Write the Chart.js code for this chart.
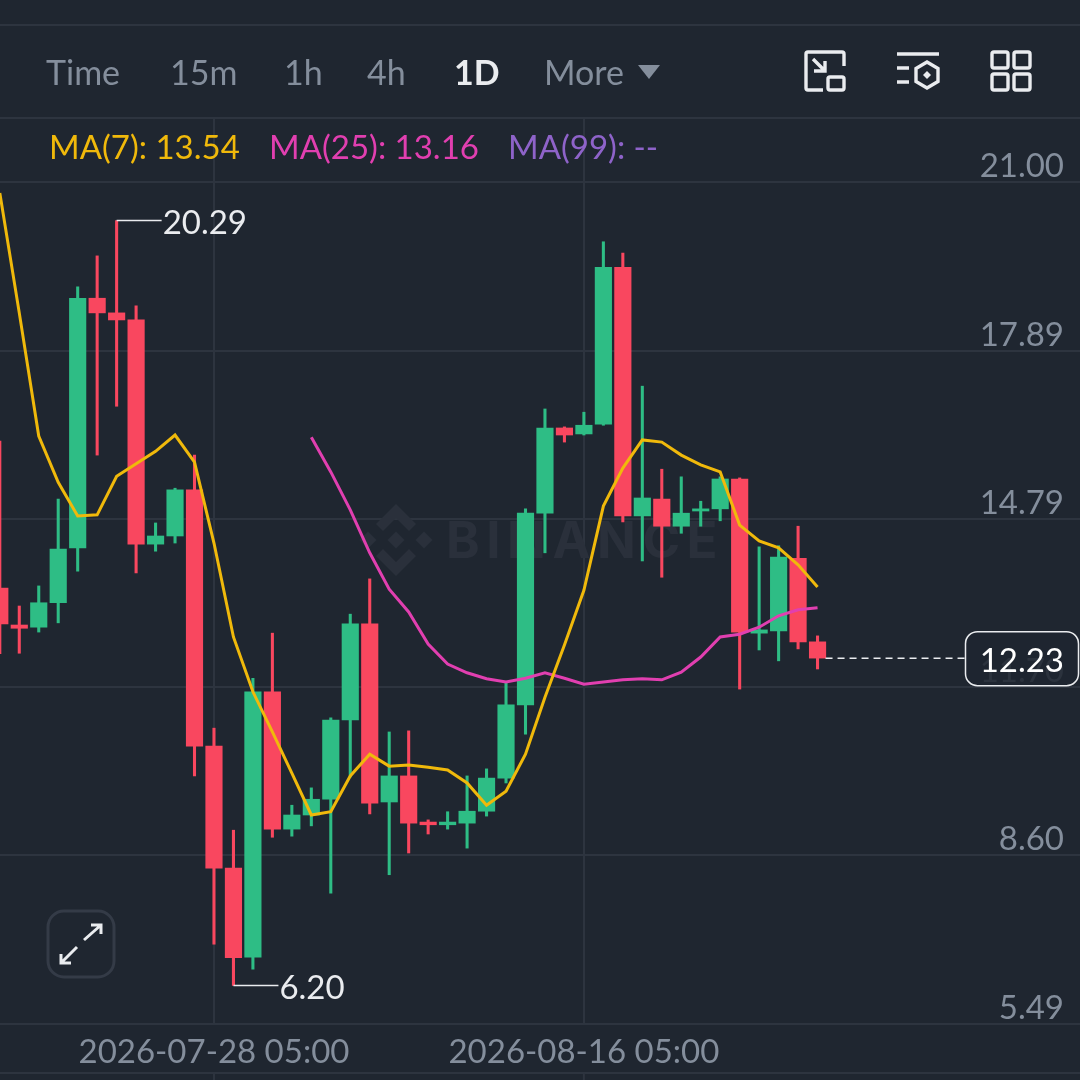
<!DOCTYPE html>
<html>
<head>
<meta charset="utf-8">
<script src="https://cdn.jsdelivr.net/npm/chart.js@4/dist/chart.umd.min.js"></script>
<style>
    html, body { margin: 0; padding: 0; background: #1f2630; }
    #page { position: relative; width: 1080px; height: 1080px; overflow: hidden; font-family: Lato, sans-serif; }
    canvas { position: absolute; left: 0; top: 0; }
    .tab, .ma { position: absolute; white-space: nowrap; transform: translateY(-50%); }
    .tab { top: 71px; font-size: 34px; color: #848e9c; }
    .tab.active { color: #eaecef; font-weight: 700; }
    .ma { top: 146px; font-size: 33px; }
    svg { position: absolute; left: 0; top: 0; }
</style>
</head>
<body>
<div id="page">
    <canvas id="chart" width="1080" height="1080"></canvas>
    <span class="tab" style="left:46px">Time</span>
    <span class="tab" style="left:170px">15m</span>
    <span class="tab" style="left:284px">1h</span>
    <span class="tab" style="left:367px">4h</span>
    <span class="tab active" style="left:454px">1D</span>
    <span class="tab" style="left:544px">More</span>
    <span class="ma" id="ma7Label" style="left:49px;color:#f0b90b"></span>
    <span class="ma" id="ma25Label" style="left:269px;color:#e13fb0"></span>
    <span class="ma" id="ma99Label" style="left:508px;color:#8e63c9"></span>
    <svg width="1080" height="1080" fill="none" stroke="#eaecef" stroke-width="3.4">
        <path d="M638 65h22l-11 14z" fill="#848e9c" stroke="none"/>
        <path d="M823 90h-15a2 2 0 0 1-2-2v-34a2 2 0 0 1 2-2h34a2 2 0 0 1 2 2v12"/>
        <rect x="828" y="77" width="16" height="13" rx="2"/>
        <path d="M813 59l12 12M814 71h11V61"/>
        <path d="M897 54h42M897 68h12M897 82h12M927 62l11 6.500v13L927 88l-11-6.500v-13z"/>
        <path d="M927 71l4 4-4 4-4-4z" fill="#eaecef" stroke="none"/>
        <rect x="992" y="52" width="16" height="16" rx="2"/>
        <rect x="1014" y="52" width="16" height="16" rx="2"/>
        <rect x="992" y="74" width="16" height="16" rx="2"/>
        <rect x="1014" y="74" width="16" height="16" rx="2"/>
        <rect x="48" y="911" width="66" height="66" rx="16" stroke="#343b47" stroke-width="3"/>
        <path d="M84 940l17-15M91 925h10v9M77 947l-16 16M61 954v9h10" stroke-width="3"/>
    </svg>
</div>
<script>
const dates = [
    '2026-07-17', '2026-07-18', '2026-07-19', '2026-07-20', '2026-07-21', '2026-07-22', '2026-07-23', '2026-07-24',
    '2026-07-25', '2026-07-26', '2026-07-27', '2026-07-28', '2026-07-29', '2026-07-30', '2026-07-31', '2026-08-01',
    '2026-08-02', '2026-08-03', '2026-08-04', '2026-08-05', '2026-08-06', '2026-08-07', '2026-08-08', '2026-08-09',
    '2026-08-10', '2026-08-11', '2026-08-12', '2026-08-13', '2026-08-14', '2026-08-15', '2026-08-16', '2026-08-17',
    '2026-08-18', '2026-08-19', '2026-08-20', '2026-08-21', '2026-08-22', '2026-08-23', '2026-08-24', '2026-08-25',
    '2026-08-26', '2026-08-27', '2026-08-28'
];
const opens = [
    13.52, 12.84, 12.80, 13.25, 14.26, 18.86, 18.59, 18.46, 14.33, 14.48, 15.33, 10.61, 8.36, 6.72, 11.61, 9.08,
    9.34, 9.63, 11.09, 12.86, 9.58, 10.06, 9.21, 9.16, 9.19, 9.41, 10.02, 11.37, 14.90, 16.47, 16.36, 16.54,
    19.43, 14.85, 15.16, 14.66, 14.94, 14.98, 15.53, 12.69, 12.73, 14.07, 12.53
];
const closes = [
    12.86, 12.78, 13.25, 14.24, 18.86, 18.59, 18.46, 14.33, 14.48, 15.33, 10.61, 8.36, 6.71, 11.61, 9.08, 9.34,
    9.63, 11.09, 12.86, 9.56, 10.06, 9.19, 9.16, 9.21, 9.41, 10.02, 11.37, 14.90, 16.47, 16.34, 16.52, 19.43,
    14.85, 15.18, 14.66, 14.90, 14.98, 15.53, 12.71, 12.75, 14.09, 12.53, 12.23
];
const highs = [
    16.23, 13.19, 13.56, 15.16, 19.07, 19.64, 20.29, 18.72, 14.72, 15.36, 15.97, 10.94, 9.06, 11.86, 12.69, 9.52,
    9.84, 11.13, 13.04, 13.69, 10.87, 10.89, 9.25, 9.40, 10.06, 10.19, 11.79, 14.98, 16.82, 16.49, 16.76, 19.90,
    19.69, 17.24, 15.71, 15.57, 15.12, 15.57, 15.55, 14.28, 14.30, 14.66, 12.64
];
const lows = [
    12.31, 12.32, 12.71, 12.88, 13.83, 15.97, 16.87, 13.80, 14.20, 14.35, 10.06, 6.96, 6.20, 6.50, 8.93, 8.95,
    9.14, 7.90, 10.04, 9.36, 8.24, 8.64, 8.99, 9.08, 8.73, 9.32, 9.93, 10.83, 14.17, 16.21, 16.34, 16.52,
    14.74, 14.02, 13.72, 14.53, 14.66, 14.76, 11.66, 12.38, 12.18, 12.40, 12.03
];
const ma7 = [
    20.80, 18.59, 16.32, 15.47, 14.85, 14.87, 15.58, 15.81, 16.04, 16.34, 15.84, 14.35, 12.62, 11.61, 10.87, 10.11,
    9.34, 9.40, 10.06, 10.46, 10.24, 10.26, 10.22, 10.17, 9.93, 9.52, 9.78, 10.46, 11.51, 12.47, 13.48, 15.03,
    15.73, 16.25, 16.21, 15.97, 15.79, 15.66, 14.68, 14.39, 14.26, 13.95, 13.54
];
const ma25 = [
    null, null, null, null, null, null, null, null, null, null, null, null, null, null, null, null,
    16.30, 15.66, 14.96, 14.17, 13.50, 13.08, 12.49, 12.12, 11.96, 11.85, 11.79, 11.86, 11.96, 11.86, 11.75, 11.79,
    11.83, 11.85, 11.83, 11.97, 12.25, 12.62, 12.67, 12.80, 13.01, 13.12, 13.16
];
const priceTicks = [21.00, 17.89, 14.79, 11.70, 8.60, 5.49];
const timeTicks = ['2026-07-28', '2026-08-16'];

const GRID = '#2d343f';
const GREEN = '#2ebd85';
const RED = '#f9475f';
const TEXT = '#848e9c';
const WHITE = '#eaecef';

function candleColor(i) {
    return closes[i] >= opens[i] ? GREEN : RED;
}

document.getElementById('ma7Label').textContent = `MA(7): ${ma7[ma7.length - 1].toFixed(2)}`;
document.getElementById('ma25Label').textContent = `MA(25): ${ma25[ma25.length - 1].toFixed(2)}`;
document.getElementById('ma99Label').textContent = 'MA(99): --';

function fillShape(c, cx, cy, points, flip) {
    c.beginPath();
    points.forEach((p, i) => {
        const px = cx + p[0];
        const py = cy + p[1] * flip;
        if (i === 0) {
            c.moveTo(px, py);
        } else {
            c.lineTo(px, py);
        }
    });
    c.closePath();
    c.fill();
}

// watermark goes under the candles, the rest of the furniture goes on top
const furniture = {
    id: 'furniture',
    beforeDatasetsDraw(chart) {
        const c = chart.ctx;
        c.save();
        c.fillStyle = '#2a303b';
        const cx = 396, cy = 540;
        const chevron = [[0, -36], [20, -16], [13, -9], [0, -22], [-13, -9], [-20, -16]];
        fillShape(c, cx, cy, chevron, 1);
        fillShape(c, cx, cy, chevron, -1);
        [-28, 0, 28].forEach(dx => {
            fillShape(c, cx + dx, cy, [[0, -8.500], [8.500, 0], [0, 8.500], [-8.500, 0]], 1);
        });
        c.font = '700 51px Inter';
        c.textAlign = 'left';
        c.textBaseline = 'middle';
        c.letterSpacing = '6.500px';
        c.fillText('BINANCE', 446, 543);
        c.restore();
    },
    afterDraw(chart) {
        const c = chart.ctx;
        const x = chart.scales.x;
        const y = chart.scales.y;
        c.save();

        // header and footer rules
        c.strokeStyle = GRID;
        c.lineWidth = 2;
        [25, 118, 1073].forEach(py => {
            c.beginPath();
            c.moveTo(0, py);
            c.lineTo(1080, py);
            c.stroke();
        });
        timeTicks.forEach(t => {
            const px = x.getPixelForValue(dates.indexOf(t));
            c.beginPath();
            c.moveTo(px, 1073);
            c.lineTo(px, 1080);
            c.stroke();
        });

        // highest and lowest price markers
        c.font = '33px Lato';
        c.textBaseline = 'middle';
        c.textAlign = 'left';
        c.strokeStyle = WHITE;
        c.fillStyle = WHITE;
        c.lineWidth = 1.5;
        [Math.max(...highs), Math.min(...lows)].forEach((v, k) => {
            const i = (k === 0 ? highs : lows).indexOf(v);
            const px = x.getPixelForValue(i);
            const py = y.getPixelForValue(v);
            c.beginPath();
            c.moveTo(px, py);
            c.lineTo(px + 45, py);
            c.stroke();
            c.fillText(v.toFixed(2), px + 46, py + 3);
        });

        // last price
        const last = closes[closes.length - 1];
        const lx = x.getPixelForValue(closes.length - 1) + 8;
        const ly = y.getPixelForValue(last);
        c.setLineDash([7, 5]);
        c.beginPath();
        c.moveTo(lx, ly);
        c.lineTo(965, ly);
        c.stroke();
        c.setLineDash([]);
        c.fillStyle = 'rgba(31, 38, 48, 0.88)';
        c.beginPath();
        c.roundRect(965.500, ly - 26.500, 113, 54, 12);
        c.fill();
        c.stroke();
        c.fillStyle = '#ffffff';
        c.textAlign = 'right';
        c.fillText(last.toFixed(2), 1064, ly + 3);
        c.restore();
    }
};

new Chart(document.getElementById('chart'), {
    data: {
        datasets: [
            {
                type: 'line',
                data: ma25.map((v, i) => ({ x: i, y: v })),
                borderColor: '#e13fb0',
                borderWidth: 3,
                pointRadius: 0,
                tension: 0,
                order: 1
            },
            {
                type: 'line',
                data: ma7.map((v, i) => ({ x: i, y: v })),
                borderColor: '#f0b90b',
                borderWidth: 3,
                pointRadius: 0,
                tension: 0,
                order: 0
            },
            {
                type: 'bar',
                data: opens.map((v, i) => ({ x: i, y: [v, closes[i]] })),
                backgroundColor: opens.map((v, i) => candleColor(i)),
                barThickness: 16.5,
                grouped: false,
                order: 2
            },
            {
                type: 'bar',
                data: highs.map((v, i) => ({ x: i, y: [lows[i], v] })),
                backgroundColor: opens.map((v, i) => candleColor(i)),
                barThickness: 2.4,
                grouped: false,
                order: 3
            }
        ]
    },
    options: {
        responsive: false,
        animation: false,
        devicePixelRatio: 1,
        layout: { padding: { top: 118 } },
        plugins: { legend: { display: false }, tooltip: { enabled: false } },
        scales: {
            x: {
                type: 'linear',
                offset: false,
                min: 0.01,
                max: 55.48,
                afterBuildTicks(scale) {
                    scale.ticks = timeTicks.map(t => ({ value: dates.indexOf(t) }));
                },
                afterFit(scale) {
                    scale.height = 56;
                },
                ticks: {
                    autoSkip: false,
                    maxRotation: 0,
                    padding: 9,
                    color: TEXT,
                    font: { family: 'Lato', size: 33 },
                    callback: v => `${dates[v]} 05:00`
                },
                grid: { offset: false, color: GRID, lineWidth: 2, drawTicks: false },
                border: { display: false }
            },
            y: {
                position: 'right',
                min: 5.49,
                max: 22.18,
                afterBuildTicks(scale) {
                    scale.ticks = priceTicks.map(v => ({ value: v }));
                },
                afterFit(scale) {
                    scale.width = 0;
                },
                ticks: {
                    mirror: true,
                    padding: -16,
                    labelOffset: -16,
                    color: TEXT,
                    font: { family: 'Lato', size: 33 },
                    callback: v => v.toFixed(2)
                },
                grid: { color: GRID, lineWidth: 2, drawTicks: false },
                border: { display: false }
            }
        }
    },
    plugins: [furniture]
});
</script>
</body>
</html>
